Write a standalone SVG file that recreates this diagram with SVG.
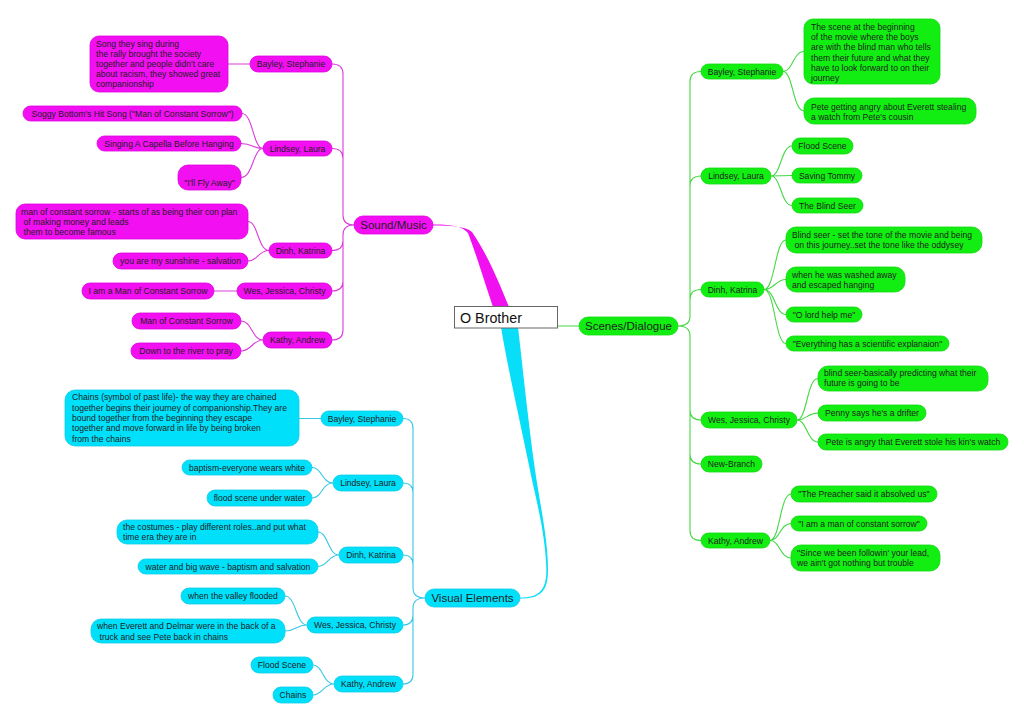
<svg xmlns="http://www.w3.org/2000/svg" width="1024" height="722" viewBox="0 0 1024 722">
<style>
.t{font-family:"Liberation Sans",Arial,Helvetica,sans-serif;font-size:8.6px;fill:#1e1e1e}
.c{text-anchor:middle}
.big{font-size:11.5px}
.m{fill:#f210f2;stroke:#e000e0;stroke-width:0.8}
.g{fill:#12ee12;stroke:#10d810;stroke-width:0.8}
.y{fill:#00e0fa;stroke:#10cce8;stroke-width:0.8}
.lm{fill:none;stroke:#dc3cdc;stroke-width:1.1}
.lg{fill:none;stroke:#44d844;stroke-width:1.1}
.ly{fill:none;stroke:#38c8e6;stroke-width:1.1}
</style>
<rect width="1024" height="722" fill="#fff"/>
<g id="connectors">
<path d="M433,224.6 C450,224.4 462,226 468,233 C474,248 484,280 493,307 L509,307 C500,285 488,255 472,232 C465,226.5 452,225.6 433,225.6 Z" fill="#f010f0"/>
<path d="M501,327 L518,327 C523,370 528,420 535,470 C541,510 548,540 548,570 C548,592 540,598.6 520,598.6 L520,597.6 C538,597.6 546.4,591 546.4,570 C545.5,540 540,515 532,480 C522,430 508,370 501,327 Z" fill="#08def8"/>
<path d="M558,326 L579,326" fill="none" stroke="#66dd66" stroke-width="1.2"/>
<path class="lm" d="M354,225 Q343,225 343,215 L343,74 Q343,64 332,64 M354,225 Q343,225 343,215 L343,158.5 Q343,148.5 332,148.5 M354,225 Q343,225 343,235 L343,240.5 Q343,250.5 332,250.5 M354,225 Q343,225 343,235 L343,281 Q343,291 332,291 M354,225 Q343,225 343,235 L343,330 Q343,340 332,340"/>
<path class="lm" d="M228,64 L250,64 M263,148.5 C253,148.5 253,113.5 242,113.5 M263,148.5 C253,148.5 253,143.5 241,143.5 M263,148.5 C253,148.5 253,177.5 241,177.5 M269,250.5 C258,250.5 258,221.5 248,221.5 M269,250.5 C258,250.5 258,261 248,261 M214,291 L237,291 M263,340 C252,340 252,321 241,321 M263,340 C252,340 252,351 241,351"/>
<path class="lg" d="M678,326 Q690,326 690,316 L690,81.5 Q690,71.5 701,71.5 M678,326 Q690,326 690,316 L690,186 Q690,176 701,176 M678,326 Q690,326 690,316 L690,299.5 Q690,289.5 701,289.5 M678,326 Q690,326 690,336 L690,410 Q690,420 701,420 M678,326 Q690,326 690,336 L690,454 Q690,464 701,464 M678,326 Q690,326 690,336 L690,530.5 Q690,540.5 701,540.5"/>
<path class="lg" d="M783,71.5 C793,71.5 793,51.5 804,51.5 M783,71.5 C793,71.5 793,111 804,111 M771,176 C781,176 781,146 792,146 M771,176 L792,175.5 M771,176 C781,176 781,205.5 792,205.5 M764,289.5 C775,289.5 775,240 786,240 M764,289.5 C775,289.5 775,279.5 786,279.5 M764,289.5 C775,289.5 775,314.5 786,314.5 M764,289.5 C775,289.5 775,343.5 786,343.5 M797,420 C807,420 807,378.5 818,378.5 M797,420 C807,420 807,413 818,413 M797,420 C807,420 807,442 818,442 M770,540.5 C780,540.5 780,494 791,494 M770,540.5 C780,540.5 780,523.5 791,523.5 M770,540.5 C780,540.5 780,558 791,558"/>
<path class="ly" d="M425,598 Q413,598 413,588 L413,428.5 Q413,418.5 403,418.5 M425,598 Q413,598 413,588 L413,493 Q413,483 403,483 M425,598 Q413,598 413,588 L413,565 Q413,555 403,555 M425,598 Q413,598 413,608 L413,615 Q413,625 403,625 M425,598 Q413,598 413,608 L413,674 Q413,684 403,684"/>
<path class="ly" d="M299,418.5 L321,418.5 M333,483 C322,483 322,467.5 312,467.5 M333,483 C322,483 322,498 312,498 M339,555 C328,555 328,532 318,532 M339,555 C328,555 328,566.5 318,566.5 M307,625 C296,625 296,596 285,596 M307,625 C296,625 296,631 285,631 M334,684 C323,684 323,665 313,665 M334,684 C323,684 323,695 313,695"/>
</g>
<g id="root"><rect x="454.5" y="306.5" width="103" height="21.5" fill="#fff" stroke="#666" stroke-width="1"/><text class="t" x="460" y="322.5" style="font-size:14.3px;fill:#111">O Brother</text></g>
<g id="sound-music"><rect class="m" x="354" y="216" width="79" height="18" rx="9"/><text class="t c big" x="393.5" y="229.2">Sound/Music</text></g>
<g id="m-bayley"><rect class="m" x="250" y="56" width="82" height="16" rx="8"/><text class="t c" x="291" y="67">Bayley, Stephanie</text></g>
<g id="m-bayley-1"><rect class="m" x="90" y="36" width="138" height="56" rx="9"/><text class="t" x="96" y="47">Song they sing during</text><text class="t" x="96" y="57">the rally brought the society</text><text class="t" x="96" y="67">together and people didn't care</text><text class="t" x="96" y="77">about racism, they showed great</text><text class="t" x="96" y="87">companionship</text></g>
<g id="m-lindsey"><rect class="m" x="263" y="141" width="69" height="15" rx="7.5"/><text class="t c" x="297.5" y="151.5">Lindsey, Laura</text></g>
<g id="m-lindsey-1"><rect class="m" x="23" y="106" width="219" height="15" rx="7.5"/><text class="t c" x="132.5" y="116.5">Soggy Bottom's Hit Song ("Man of Constant Sorrow")</text></g>
<g id="m-lindsey-2"><rect class="m" x="97" y="136" width="144" height="15" rx="7.5"/><text class="t c" x="169" y="146.5">Singing A Capella Before Hanging</text></g>
<g id="m-lindsey-3"><rect class="m" x="178" y="165" width="63" height="25" rx="10"/><text class="t c" x="209.5" y="186">"I'll Fly Away"</text></g>
<g id="m-dinh"><rect class="m" x="269" y="243" width="63" height="15" rx="7.5"/><text class="t c" x="300.5" y="253.5">Dinh, Katrina</text></g>
<g id="m-dinh-1"><rect class="m" x="16" y="204" width="232" height="35" rx="9"/><text class="t" x="21" y="215">man of constant sorrow - starts of as being their con plan</text><text class="t" x="23.5" y="225">of making money and leads</text><text class="t" x="23.5" y="235">them to become famous</text></g>
<g id="m-dinh-2"><rect class="m" x="113" y="253" width="135" height="16" rx="8"/><text class="t c" x="180.5" y="264">you are my sunshine - salvation</text></g>
<g id="m-wes"><rect class="m" x="237" y="283" width="95" height="16" rx="8"/><text class="t c" x="284.5" y="294">Wes, Jessica, Christy</text></g>
<g id="m-wes-1"><rect class="m" x="82" y="283" width="132" height="16" rx="8"/><text class="t c" x="148" y="294">I am a Man of Constant Sorrow</text></g>
<g id="m-kathy"><rect class="m" x="263" y="332" width="69" height="16" rx="8"/><text class="t c" x="297.5" y="343">Kathy, Andrew</text></g>
<g id="m-kathy-1"><rect class="m" x="132" y="313" width="109" height="16" rx="8"/><text class="t c" x="186.5" y="324">Man of Constant Sorrow</text></g>
<g id="m-kathy-2"><rect class="m" x="131" y="343" width="110" height="16" rx="8"/><text class="t c" x="186" y="354">Down to the river to pray</text></g>
<g id="scenes-dialogue"><rect class="g" x="579" y="317" width="99" height="18" rx="9"/><text class="t c big" x="628.5" y="330.2">Scenes/Dialogue</text></g>
<g id="g-bayley"><rect class="g" x="701" y="64" width="82" height="15" rx="7.5"/><text class="t c" x="742" y="74.5">Bayley, Stephanie</text></g>
<g id="g-bayley-1"><rect class="g" x="804" y="19" width="136" height="65" rx="9"/><text class="t" x="811" y="29.8">The scene at the beginning</text><text class="t" x="811" y="40.1">of the movie where the boys</text><text class="t" x="811" y="50.4">are with the blind man who tells</text><text class="t" x="811" y="60.7">them their future and what they</text><text class="t" x="811" y="71">have to look forward to on their</text><text class="t" x="811" y="81.3">journey</text></g>
<g id="g-bayley-2"><rect class="g" x="804" y="98" width="172" height="26" rx="10"/><text class="t" x="811" y="110">Pete getting angry about Everett stealing</text><text class="t" x="811" y="120">a watch from Pete's cousin</text></g>
<g id="g-lindsey"><rect class="g" x="701" y="168" width="70" height="16" rx="8"/><text class="t c" x="736" y="179">Lindsey, Laura</text></g>
<g id="g-lindsey-1"><rect class="g" x="792" y="138" width="61" height="16" rx="8"/><text class="t c" x="822.5" y="149">Flood Scene</text></g>
<g id="g-lindsey-2"><rect class="g" x="792" y="168" width="70" height="15" rx="7.5"/><text class="t c" x="827" y="178.5">Saving Tommy</text></g>
<g id="g-lindsey-3"><rect class="g" x="792" y="198" width="71" height="15" rx="7.5"/><text class="t c" x="827.5" y="208.5">The Blind Seer</text></g>
<g id="g-dinh"><rect class="g" x="701" y="282" width="63" height="15" rx="7.5"/><text class="t c" x="732.5" y="292.5">Dinh, Katrina</text></g>
<g id="g-dinh-1"><rect class="g" x="786" y="227" width="196" height="26" rx="10"/><text class="t" x="792" y="238">Blind seer - set the tone of the movie and being</text><text class="t" x="794.5" y="248">on this journey..set the tone like the oddysey</text></g>
<g id="g-dinh-2"><rect class="g" x="786" y="267" width="119" height="25" rx="10"/><text class="t" x="792" y="278">when he was washed away</text><text class="t" x="792" y="288">and escaped hanging</text></g>
<g id="g-dinh-3"><rect class="g" x="786" y="307" width="76" height="15" rx="7.5"/><text class="t c" x="824" y="317.5">"O lord help me"</text></g>
<g id="g-dinh-4"><rect class="g" x="786" y="336" width="163" height="15" rx="7.5"/><text class="t c" x="867.5" y="346.5">"Everything has a scientific explanaion"</text></g>
<g id="g-wes"><rect class="g" x="701" y="412" width="96" height="16" rx="8"/><text class="t c" x="749" y="423">Wes, Jessica, Christy</text></g>
<g id="g-wes-1"><rect class="g" x="818" y="366" width="170" height="25" rx="10"/><text class="t" x="824" y="376">blind seer-basically predicting what their</text><text class="t" x="824" y="386">future is going to be</text></g>
<g id="g-wes-2"><rect class="g" x="818" y="405" width="108" height="16" rx="8"/><text class="t c" x="872" y="416">Penny says he's a drifter</text></g>
<g id="g-wes-3"><rect class="g" x="818" y="434" width="190" height="16" rx="8"/><text class="t c" x="913" y="445">Pete is angry that Everett stole his kin's watch</text></g>
<g id="g-new-branch"><rect class="g" x="701" y="456" width="61" height="16" rx="8"/><text class="t c" x="731.5" y="467">New-Branch</text></g>
<g id="g-kathy"><rect class="g" x="701" y="533" width="69" height="15" rx="7.5"/><text class="t c" x="735.5" y="543.5">Kathy, Andrew</text></g>
<g id="g-kathy-1"><rect class="g" x="791" y="486" width="146" height="16" rx="8"/><text class="t c" x="864" y="497">"The Preacher said it absolved us"</text></g>
<g id="g-kathy-2"><rect class="g" x="791" y="516" width="136" height="15" rx="7.5"/><text class="t c" x="859" y="526.5">"I am a man of constant sorrow"</text></g>
<g id="g-kathy-3"><rect class="g" x="791" y="545" width="149" height="26" rx="10"/><text class="t" x="797" y="556">"Since we been followin' your lead,</text><text class="t" x="797" y="566">we ain't got nothing but trouble</text></g>
<g id="visual-elements"><rect class="y" x="425" y="589" width="95" height="18" rx="9"/><text class="t c big" x="472.5" y="602.2">Visual Elements</text></g>
<g id="c-bayley"><rect class="y" x="321" y="411" width="82" height="15" rx="7.5"/><text class="t c" x="362" y="421.5">Bayley, Stephanie</text></g>
<g id="c-bayley-1"><rect class="y" x="65" y="390" width="234" height="56" rx="10"/><text class="t" x="72" y="400.3">Chains (symbol of past life)- the way they are chained</text><text class="t" x="72" y="410.7">together begins their journey of companionship.They are</text><text class="t" x="72" y="421">bound together from the beginning they escape</text><text class="t" x="72" y="431.4">together and move forward in life by being broken</text><text class="t" x="72" y="441.8">from the chains</text></g>
<g id="c-lindsey"><rect class="y" x="333" y="475" width="70" height="16" rx="8"/><text class="t c" x="368" y="486">Lindsey, Laura</text></g>
<g id="c-lindsey-1"><rect class="y" x="182" y="460" width="130" height="15" rx="7.5"/><text class="t c" x="247" y="470.5">baptism-everyone wears white</text></g>
<g id="c-lindsey-2"><rect class="y" x="207" y="490" width="105" height="16" rx="8"/><text class="t c" x="259.5" y="501">flood scene under water</text></g>
<g id="c-dinh"><rect class="y" x="339" y="547" width="64" height="16" rx="8"/><text class="t c" x="371" y="558">Dinh, Katrina</text></g>
<g id="c-dinh-1"><rect class="y" x="117" y="520" width="201" height="24" rx="10"/><text class="t" x="123" y="530.3">the costumes - play different roles..and put what</text><text class="t" x="123" y="540.3">time era they are in</text></g>
<g id="c-dinh-2"><rect class="y" x="138" y="559" width="180" height="15" rx="7.5"/><text class="t c" x="228" y="569.5">water and big wave - baptism and salvation</text></g>
<g id="c-wes"><rect class="y" x="307" y="617" width="96" height="16" rx="8"/><text class="t c" x="355" y="628">Wes, Jessica, Christy</text></g>
<g id="c-wes-1"><rect class="y" x="181" y="588" width="104" height="16" rx="8"/><text class="t c" x="233" y="599">when the valley flooded</text></g>
<g id="c-wes-2"><rect class="y" x="91" y="619" width="194" height="24" rx="10"/><text class="t" x="97" y="629">when Everett and Delmar were in the back of a</text><text class="t" x="99.5" y="639.7">truck and see Pete back in chains</text></g>
<g id="c-kathy"><rect class="y" x="334" y="676" width="69" height="16" rx="8"/><text class="t c" x="368.5" y="687">Kathy, Andrew</text></g>
<g id="c-kathy-1"><rect class="y" x="251" y="657" width="62" height="16" rx="8"/><text class="t c" x="282" y="668">Flood Scene</text></g>
<g id="c-kathy-2"><rect class="y" x="273" y="687" width="40" height="16" rx="8"/><text class="t c" x="293" y="698">Chains</text></g>
</svg>
